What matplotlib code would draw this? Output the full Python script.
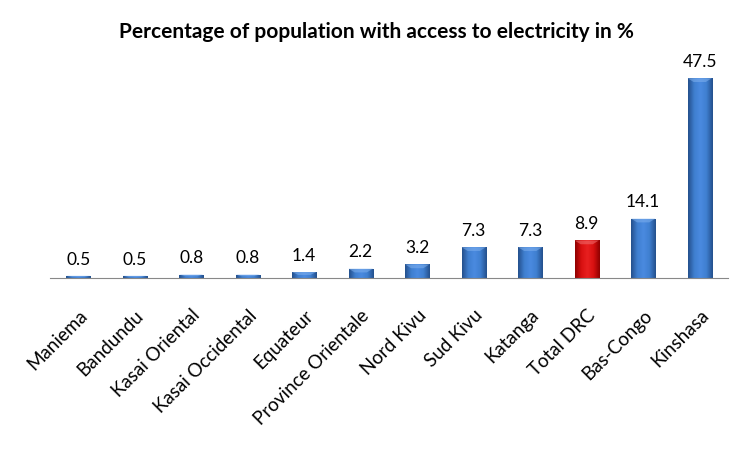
import numpy as np
import matplotlib
matplotlib.use("Agg")
import matplotlib.pyplot as plt
from matplotlib.colors import LinearSegmentedColormap

categories = ["Maniema", "Bandundu", "Kasai Oriental", "Kasai Occidental", "Equateur",
              "Province Orientale", "Nord Kivu", "Sud Kivu", "Katanga", "Total DRC",
              "Bas-Congo", "Kinshasa"]
values = [0.5, 0.5, 0.8, 0.8, 1.4, 2.2, 3.2, 7.3, 7.3, 8.9, 14.1, 47.5]
highlight = "Total DRC"
title = "Percentage of population with access to electricity in %"

plt.rcParams['font.family'] = ['Lato', 'DejaVu Sans']

fig = plt.figure(figsize=(7.52, 4.52), dpi=100)
ax = fig.add_axes([0.0665, 0.383, 0.9015, 0.465])
x = np.arange(len(categories))
bars = ax.bar(x, values, width=0.43, color="none", edgecolor="none", zorder=2)

blue = LinearSegmentedColormap.from_list("b", ["#24508c", "#3f7fd0", "#4a8ae0", "#3f7fd0", "#24508c"])
red = LinearSegmentedColormap.from_list("r", ["#8e0000", "#d81010", "#e82020", "#d81010", "#8e0000"])
grad = np.linspace(0, 1, 64).reshape(1, -1)
for cat, b in zip(categories, bars):
    cmap = red if cat == highlight else blue
    x0, y0 = b.get_x(), b.get_y()
    w, h = b.get_width(), b.get_height()
    im = ax.imshow(grad, cmap=cmap, aspect="auto", extent=[x0, x0 + w, y0, y0 + h],
                   zorder=2, interpolation="bicubic")
    im.set_clip_path(b)
    cap = min(h * 0.5, 0.9)
    top_col = "#f07070" if cat == highlight else "#7fb0ee"
    ax.fill([x0, x0 + w, x0 + w * 0.75, x0 + w * 0.25],
            [y0 + h, y0 + h, y0 + h - cap, y0 + h - cap], color=top_col, alpha=0.55, zorder=3, lw=0)
    ax.text(b.get_x() + w / 2, h + 2.2, f"{h:.1f}", ha="center", va="bottom", fontsize=12.5, color="#000000")

ax.set_xlim(-0.5, len(categories) - 0.5)
ax.set_ylim(0, 50)
ax.set_yticks([])
ax.set_xticks(x)
ax.set_xticklabels(categories, rotation=45, ha="right", rotation_mode="anchor", fontsize=13.5)
ax.tick_params(axis="x", length=0, pad=20)
for s in ["top", "right", "left"]:
    ax.spines[s].set_visible(False)
ax.spines["bottom"].set_color("#888888")
ax.patch.set_alpha(0)
fig.text(0.5, 0.930, title, ha="center", va="center", fontsize=15, fontweight="bold")
fig.savefig("out.png", dpi=100)
